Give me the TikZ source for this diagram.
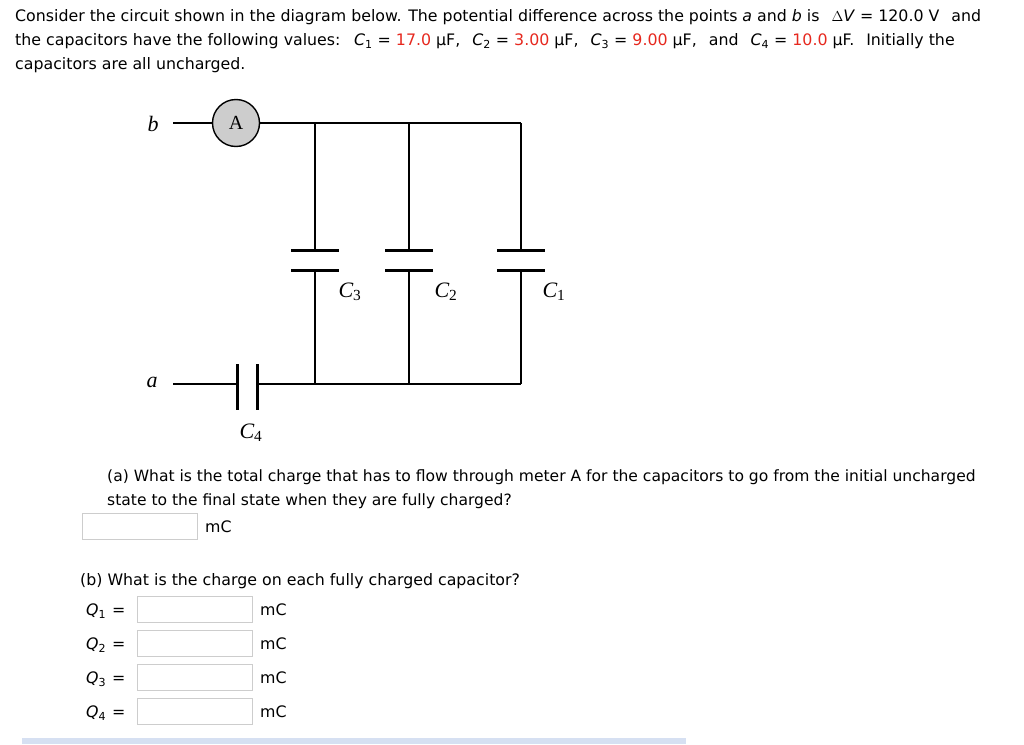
\documentclass[tikz,border=0pt]{standalone}
\usepackage{fontspec}
\setmainfont{DejaVu Sans}
\newfontfamily\tms{Liberation Serif}
\definecolor{ansred}{RGB}{230,40,30}
\definecolor{barblue}{RGB}{214,224,242}
\definecolor{boxgray}{RGB}{205,205,205}
\definecolor{meter}{RGB}{205,205,205}
\begin{document}
\begin{tikzpicture}[x=1pt,y=-1pt,
  txt/.style={anchor=base west,inner sep=0pt,font=\fontsize{15.8}{18}\selectfont},
  lbl/.style={inner sep=0pt,font=\tms\itshape\fontsize{22}{24}\selectfont},
  wire/.style={line width=1.4pt},
  plate/.style={line width=3pt},
  ansbox/.style={draw=boxgray,minimum width=115pt,minimum height=26pt,inner sep=0pt}]
\useasboundingbox (0,0) rectangle (1024,744);
\newcommand{\rv}[1]{\textcolor{ansred}{#1}}
\newcommand{\gp}{\hspace{7pt}}
\node[txt] (t1) at (15,21) {Consider the circuit shown in the diagram below. The potential difference across the points \textit{a} and \textit{b} is\gp{} $\Delta$\textit{V} = 120.0 V\gp{} and};
\node[txt] (t2) at (15,45) {the capacitors have the following values:\gp{} \textit{C}\textsubscript{1} = \rv{17.0} μF,\gp{} \textit{C}\textsubscript{2} = \rv{3.00} μF,\gp{} \textit{C}\textsubscript{3} = \rv{9.00} μF,\gp{} and\gp{} \textit{C}\textsubscript{4} = \rv{10.0} μF.\gp{} Initially the};
\node[txt] (t3) at (15,69) {capacitors are all uncharged.};
% circuit
\node[lbl] (b) at (153,124) {b};
\node[lbl] (a) at (152,382) {a};
\node[circle,draw,line width=1.4pt,fill=meter,minimum size=47pt,inner sep=0pt,font=\tms\fontsize{20}{22}\selectfont] (A) at (236,123) {A};
\coordinate (bw) at (173,123);
\coordinate (aw) at (173,384);
\coordinate (tr) at (521,123);
\coordinate (br) at (521,384);
\draw[wire] (bw) -- (A.west);
\draw[wire] (A.east) -- (tr);
\foreach \x/\n in {315/3,409/2,521/1}{
  \coordinate (u\n) at (\x,123); \coordinate (p\n) at (\x,250); \coordinate (q\n) at (\x,270); \coordinate (d\n) at (\x,384);
  \draw[wire] (u\n) -- (p\n);
  \draw[wire] (q\n) -- (d\n);
  \draw[plate] (\x-24,250) -- (\x+24,250);
  \draw[plate] (\x-24,270) -- (\x+24,270);
}
\coordinate (c4l) at (237,384); \coordinate (c4r) at (257,384);
\draw[wire] (aw) -- (c4l);
\draw[wire] (c4r) -- (br);
\draw[plate] (237,364) -- (237,410);
\draw[plate] (257,364) -- (257,410);
\node[lbl] (lc3) at (350,292) {C\textsubscript{\upshape 3}};
\node[lbl] (lc2) at (446,292) {C\textsubscript{\upshape 2}};
\node[lbl] (lc1) at (554,292) {C\textsubscript{\upshape 1}};
\node[lbl] (lc4) at (251,433) {C\textsubscript{\upshape 4}};
% questions
\node[txt,font=\fontsize{15.55}{18}\selectfont] (qa1) at (107,481) {(a) What is the total charge that has to flow through meter A for the capacitors to go from the initial uncharged};
\node[txt,font=\fontsize{15.55}{18}\selectfont] (qa2) at (107,505) {state to the final state when they are fully charged?};
\node[ansbox] (ba) at (139.5,526) {};
\node[txt] (ua) at (205,532) {mC};
\node[txt] (qb) at (80,585) {(b) What is the charge on each fully charged capacitor?};
\foreach \i/\y in {1/609,2/643,3/677,4/711}{
  \node[txt] (Q\i) at (86,\y+6) {\textit{Q}\textsubscript{\i}};
  \node[txt] (e\i) at (112,\y+6) {=};
  \node[ansbox] (bx\i) at (194.5,\y) {};
  \node[txt] (u\i) at (260,\y+6) {mC};
}
\fill[barblue] (22,738) rectangle (686,744);
\end{tikzpicture}
\end{document}
